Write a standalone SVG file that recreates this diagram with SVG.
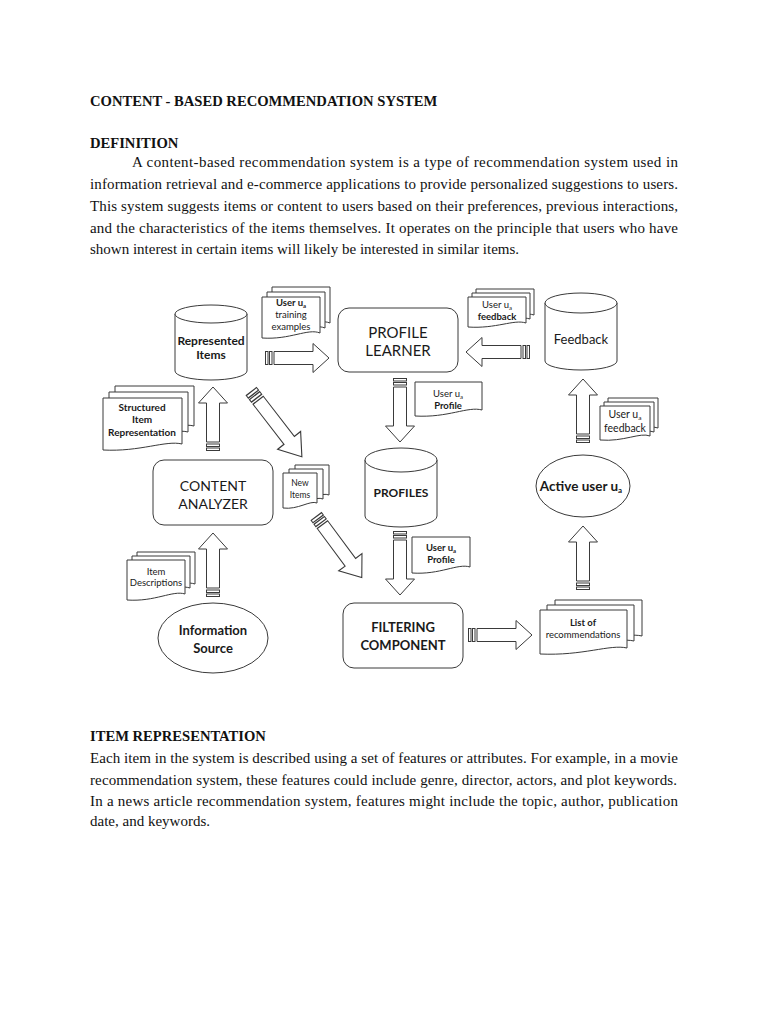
<svg xmlns="http://www.w3.org/2000/svg" width="768" height="1024" viewBox="0 0 768 1024">
<style>
.bg{fill:#fff}
.h{font-family:"Liberation Serif","Times New Roman",serif;font-weight:bold;font-size:14.6px;fill:#111}
.p{font-family:"Liberation Serif","Times New Roman",serif;font-size:15px;fill:#111}
.s{fill:#fff;stroke:#3a3a3a;stroke-width:1}
.t{font-family:Lato,"Open Sans","Liberation Sans",sans-serif;fill:#1a1a1a;text-anchor:middle}
.b{font-weight:bold}
.big{font-size:14px}
.mid{font-size:12px}
.sm{font-size:9.5px}
</style>
<defs>
<g id="arr">
<path class="s" d="M9,-6.5 H48 V-14.5 L64,0 L48,14.5 V6.5 H9 Z"/>
<rect class="s" x="0.5" y="-6.5" width="2.5" height="13"/>
<rect class="s" x="4.5" y="-6.5" width="2.5" height="13"/>
</g>
</defs>
<rect class="bg" width="768" height="1024"/>

<text class="h" x="90" y="106">CONTENT - BASED RECOMMENDATION SYSTEM</text>
<text class="h" x="90" y="148">DEFINITION</text>
<text class="p" x="132" y="167" textLength="546" lengthAdjust="spacing">A content-based recommendation system is a type of recommendation system used in</text>
<text class="p" x="90" y="189" textLength="588" lengthAdjust="spacing">information retrieval and e-commerce applications to provide personalized suggestions to users.</text>
<text class="p" x="90" y="211" textLength="588" lengthAdjust="spacing">This system suggests items or content to users based on their preferences, previous interactions,</text>
<text class="p" x="90" y="233" textLength="588" lengthAdjust="spacing">and the characteristics of the items themselves. It operates on the principle that users who have</text>
<text class="p" x="90" y="254">shown interest in certain items will likely be interested in similar items.</text>

<text class="h" x="90" y="741">ITEM REPRESENTATION</text>
<text class="p" x="90" y="763" textLength="588" lengthAdjust="spacing">Each item in the system is described using a set of features or attributes. For example, in a movie</text>
<text class="p" x="90" y="785" textLength="587" lengthAdjust="spacing">recommendation system, these features could include genre, director, actors, and plot keywords.</text>
<text class="p" x="90" y="806" textLength="588" lengthAdjust="spacing">In a news article recommendation system, features might include the topic, author, publication</text>
<text class="p" x="90" y="826">date, and keywords.</text>

<g id="connectors">
<use href="#arr" transform="translate(265,358)"/>
<use href="#arr" transform="translate(530,352) rotate(180)"/>
<use href="#arr" transform="translate(583,443) rotate(-90)"/>
<use href="#arr" transform="translate(400,378) rotate(90)"/>
<use href="#arr" transform="translate(400,531) rotate(90)"/>
<use href="#arr" transform="translate(468,635)"/>
<use href="#arr" transform="translate(583,590) rotate(-90)"/>
<use href="#arr" transform="translate(213,451) rotate(-90)"/>
<use href="#arr" transform="translate(213,597) rotate(-90)"/>
<use href="#arr" transform="translate(251,391) rotate(52.3) scale(1.3,1)"/>
<use href="#arr" transform="translate(316,516) rotate(53.4) scale(1.2,1)"/>
</g>

<g id="represented-items">
<path class="s" d="M175,314 V371 A36,9 0 0 0 247,371 V314"/>
<ellipse class="s" cx="211" cy="314" rx="36" ry="9"/>
<text class="t b mid" x="211" y="345">Represented</text>
<text class="t b mid" x="211" y="359">Items</text>
</g>

<g id="training-examples">
<path class="s" d="M272,287 H330 V323 C318,318 300,330 272,328 Z"/>
<path class="s" d="M267,292 H325 V328 C313,323 295,335 267,333 Z"/>
<path class="s" d="M262,297 H320 V333 C308,328 290,340 262,338 Z"/>
<text class="t b sm" x="291" y="306">User u<tspan font-size="6" dy="2">a</tspan></text>
<text class="t sm" x="291" y="318">training</text>
<text class="t sm" x="291" y="330">examples</text>
</g>

<g id="profile-learner">
<rect class="s" x="338" y="308" width="120" height="64" rx="11"/>
<text class="t" font-size="15" x="398" y="338">PROFILE</text>
<text class="t" font-size="15" x="398" y="356">LEARNER</text>
</g>

<g id="feedback-doc-top">
<path class="s" d="M476,289 H534 V315 C522,311 504,321 476,319 Z"/>
<path class="s" d="M472,293 H530 V319 C518,315 500,325 472,323 Z"/>
<path class="s" d="M468,297 H526 V323 C514,319 496,329 468,327 Z"/>
<text class="t sm" x="497" y="308">User u<tspan font-size="6" dy="2">a</tspan></text>
<text class="t b sm" x="497" y="320">feedback</text>
</g>

<g id="feedback">
<path class="s" d="M545,303 V361 A36,9 0 0 0 617,361 V303"/>
<ellipse class="s" cx="581" cy="303" rx="36" ry="10"/>
<text class="t" font-size="13" x="581" y="344">Feedback</text>
</g>

<g id="feedback-doc-right">
<path class="s" d="M608,398 H658 V428 C648,424 632,434 608,432 Z"/>
<path class="s" d="M604,402 H654 V432 C644,428 628,438 604,436 Z"/>
<path class="s" d="M600,406 H650 V436 C640,432 624,442 600,440 Z"/>
<text class="t" font-size="10.5" x="625" y="418">User u<tspan font-size="6.5" dy="2">a</tspan></text>
<text class="t" font-size="10.5" x="625" y="432">feedback</text>
</g>

<g id="profile-doc-1">
<path class="s" d="M415,382 H482 V410 C468,406 448,418 415,416 Z"/>
<text class="t sm" x="448" y="397">User u<tspan font-size="6" dy="2">a</tspan></text>
<text class="t b sm" x="448" y="409">Profile</text>
</g>

<g id="profiles">
<path class="s" d="M365,460 V516 A36,11 0 0 0 437,516 V460"/>
<ellipse class="s" cx="401" cy="460" rx="36" ry="12"/>
<text class="t b mid" x="401" y="497">PROFILES</text>
</g>

<g id="active-user">
<ellipse class="s" cx="583" cy="486" rx="47" ry="31"/>
<text class="t b" font-size="13.5" x="581" y="491">Active user u<tspan font-size="8" dy="2">a</tspan></text>
</g>

<g id="structured-item">
<path class="s" d="M115,386 H194 V426 C178,422 152,434 115,432 Z"/>
<path class="s" d="M109,392 H188 V432 C172,428 146,440 109,438 Z"/>
<path class="s" d="M103,398 H182 V444 C166,440 140,452 103,450 Z"/>
<text class="t b" font-size="10" x="142" y="411">Structured</text>
<text class="t b" font-size="10" x="142" y="423">Item</text>
<text class="t b" font-size="10" x="142" y="436">Representation</text>
</g>

<g id="content-analyzer">
<rect class="s" x="153" y="460" width="120" height="65" rx="11"/>
<text class="t big" x="213" y="491">CONTENT</text>
<text class="t big" x="213" y="509">ANALYZER</text>
</g>

<g id="new-items">
<path class="s" d="M295,465 H329 V495 C322,492 310,500 295,498 Z"/>
<path class="s" d="M289,469 H323 V499 C316,496 304,504 289,502 Z"/>
<path class="s" d="M283,473 H317 V503 C310,500 298,510 283,508 Z"/>
<text class="t" font-size="8.5" x="300" y="486">New</text>
<text class="t" font-size="8.5" x="300" y="498">Items</text>
</g>

<g id="user-profile-doc-2">
<path class="s" d="M412,537 H470 V567 C458,563 440,575 412,573 Z"/>
<text class="t b sm" x="441" y="551">User u<tspan font-size="6" dy="2">a</tspan></text>
<text class="t b sm" x="441" y="563">Profile</text>
</g>

<g id="item-descriptions">
<path class="s" d="M137,552 H195 V584 C183,580 165,590 137,588 Z"/>
<path class="s" d="M132,556 H190 V588 C178,584 160,594 132,592 Z"/>
<path class="s" d="M127,560 H185 V594 C173,590 155,602 127,600 Z"/>
<text class="t sm" x="156" y="575">Item</text>
<text class="t sm" x="156" y="586">Descriptions</text>
</g>

<g id="information-source">
<ellipse class="s" cx="213" cy="638" rx="55" ry="35"/>
<text class="t b" font-size="13" x="213" y="635">Information</text>
<text class="t b" font-size="13" x="213" y="653">Source</text>
</g>

<g id="filtering-component">
<rect class="s" x="343" y="603" width="120" height="65" rx="11"/>
<text class="t b" font-size="13" x="403" y="632">FILTERING</text>
<text class="t b" font-size="13" x="403" y="650">COMPONENT</text>
</g>

<g id="recommendations">
<path class="s" d="M555,600 H642 V636 C625,632 598,644 555,642 Z"/>
<path class="s" d="M547,605 H634 V641 C617,637 590,649 547,647 Z"/>
<path class="s" d="M540,610 H627 V648 C610,644 583,656 540,654 Z"/>
<text class="t b sm" x="583" y="626">List of</text>
<text class="t sm" x="583" y="638">recommendations</text>
</g>
</svg>
